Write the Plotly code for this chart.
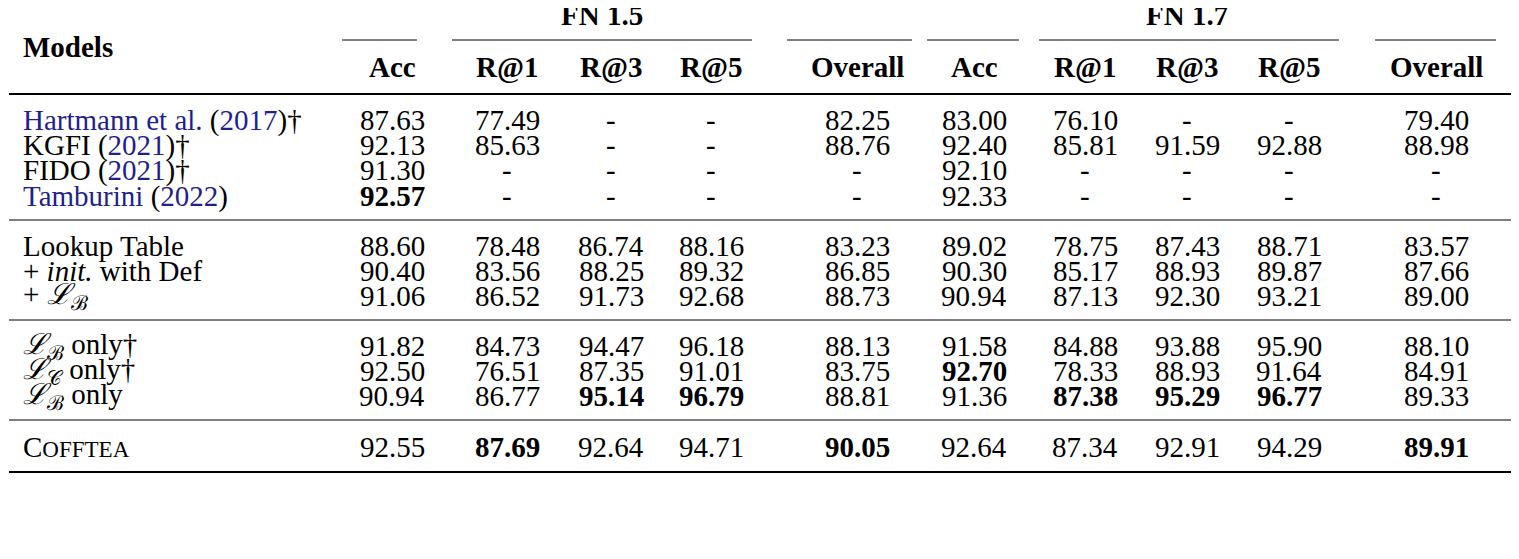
import plotly.graph_objects as go

B = "#1f1f8f"  # citation blue

models = [
    f"<span style='color:{B}'>Hartmann et al.</span> (<span style='color:{B}'>2017</span>)†",
    f"KGFI (<span style='color:{B}'>2021</span>)†",
    f"FIDO (<span style='color:{B}'>2021</span>)†",
    f"<span style='color:{B}'>Tamburini</span> (<span style='color:{B}'>2022</span>)",
    "Lookup Table",
    "+ <i>init.</i> with Def",
    "+ <i>ℒ</i><sub>ℬ</sub>",
    "<i>ℒ</i><sub>ℬ</sub> only†",
    "<i>ℒ</i><sub>𝒞</sub> only†",
    "<i>ℒ</i><sub>ℬ</sub> only",
    "C<span style='font-size:23px'>OFFTEA</span>",
]
col_labels = ["Acc", "R@1", "R@3", "R@5", "Overall", "Acc", "R@1", "R@3", "R@5", "Overall"]
values = [
    ["87.63", "77.49", "-", "-", "82.25", "83.00", "76.10", "-", "-", "79.40"],
    ["92.13", "85.63", "-", "-", "88.76", "92.40", "85.81", "91.59", "92.88", "88.98"],
    ["91.30", "-", "-", "-", "-", "92.10", "-", "-", "-", "-"],
    ["92.57", "-", "-", "-", "-", "92.33", "-", "-", "-", "-"],
    ["88.60", "78.48", "86.74", "88.16", "83.23", "89.02", "78.75", "87.43", "88.71", "83.57"],
    ["90.40", "83.56", "88.25", "89.32", "86.85", "90.30", "85.17", "88.93", "89.87", "87.66"],
    ["91.06", "86.52", "91.73", "92.68", "88.73", "90.94", "87.13", "92.30", "93.21", "89.00"],
    ["91.82", "84.73", "94.47", "96.18", "88.13", "91.58", "84.88", "93.88", "95.90", "88.10"],
    ["92.50", "76.51", "87.35", "91.01", "83.75", "92.70", "78.33", "88.93", "91.64", "84.91"],
    ["90.94", "86.77", "95.14", "96.79", "88.81", "91.36", "87.38", "95.29", "96.77", "89.33"],
    ["92.55", "87.69", "92.64", "94.71", "90.05", "92.64", "87.34", "92.91", "94.29", "89.91"],
]
# (row, col) cells in bold
bold = [(3, 0), (9, 2), (9, 3), (9, 8), (8, 5), (9, 6), (9, 7),
        (10, 1), (10, 4), (10, 9)]

DX, DY = -9, -8
col_x = [393, 508, 612, 712, 858, 975, 1086, 1188, 1290, 1437]
row_y = [120, 145, 170, 196, 246, 271, 296, 346, 371, 396, 447]

fig = go.Figure()
fig.add_trace(go.Scatter(x=[None], y=[None], showlegend=False))
ann = []
font = dict(family="Liberation Serif", size=29, color="black")


def txt(x, y, s, anchor="center"):
    ann.append(dict(x=x + DX, y=y + DY, text=s, showarrow=False, xanchor=anchor,
                    yanchor="middle", font=font))


txt(22, 47, "<b>Models</b>", "left")
txt(603, 15, "<b>FN 1.5</b>")
txt(1188, 15, "<b>FN 1.7</b>")
for c, lab in enumerate(col_labels):
    txt(col_x[c], 67, f"<b>{lab}</b>")
for r, m in enumerate(models):
    txt(22, row_y[r], m, "left")
    for c, v in enumerate(values[r]):
        txt(col_x[c], row_y[r], f"<b>{v}</b>" if (r, c) in bold else v)

shapes = []
for x0, x1 in [(343, 418), (453, 753), (788, 913), (928, 1020), (1040, 1340), (1376, 1497)]:
    shapes.append(dict(type="line", x0=x0 + DX, x1=x1 + DX, y0=40 + DY, y1=40 + DY,
                       line=dict(width=1, color="black")))
for y, w in [(94, 2), (220, 1), (320, 1), (420, 1), (472, 2)]:
    shapes.append(dict(type="line", x0=10 + DX, x1=1525 + DX, y0=y + DY, y1=y + DY,
                       line=dict(width=w, color="black")))

fig.update_layout(
    width=1519, height=559, margin=dict(l=0, r=0, t=0, b=0),
    paper_bgcolor="white", plot_bgcolor="white",
    xaxis=dict(range=[0, 1519], visible=False, fixedrange=True),
    yaxis=dict(range=[559, 0], visible=False, fixedrange=True),
    annotations=ann, shapes=shapes,
)
fig.write_html("out.html")
